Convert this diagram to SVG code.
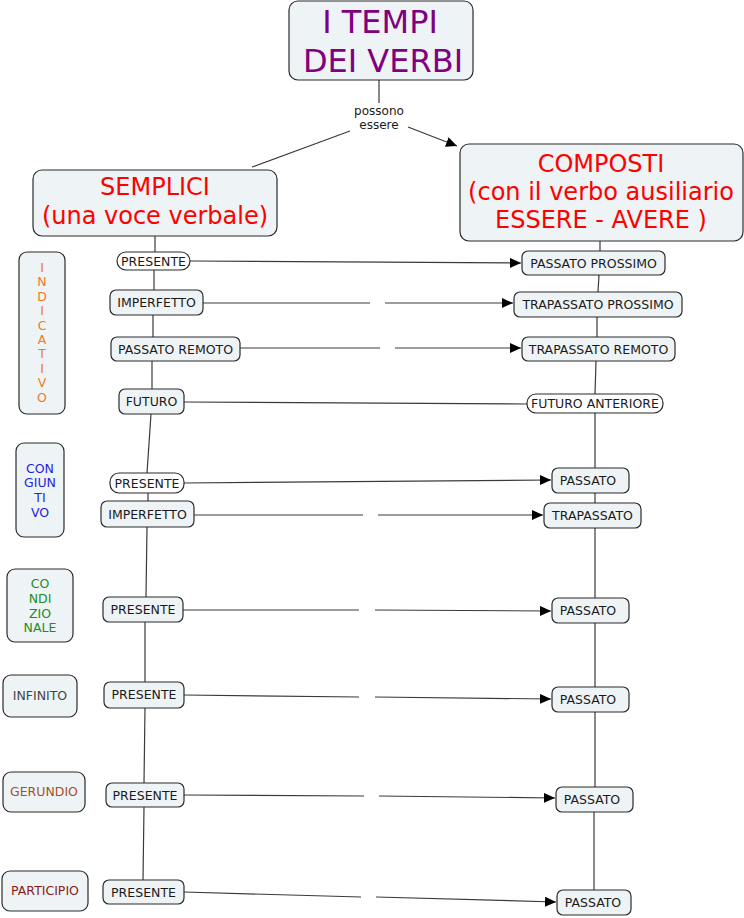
<svg xmlns="http://www.w3.org/2000/svg" width="744" height="918" viewBox="0 0 744 918">
<defs>
<marker id="arr" markerUnits="userSpaceOnUse" markerWidth="12" markerHeight="12" refX="11" refY="5" orient="auto">
<path d="M0,0 L11,5 L0,10 Z" fill="#000"/>
</marker>
<style>
.n{fill:#eef3f5;stroke:#2b2b2b;stroke-width:1.2}
.w{fill:#ffffff;stroke:#2b2b2b;stroke-width:1.2}
.t{font-family:"DejaVu Sans",Verdana,sans-serif;font-size:12.5px;fill:#1a1a1a;text-anchor:middle}
.big{font-family:"DejaVu Sans",Verdana,sans-serif;font-size:24px;fill:#ff0000;text-anchor:middle}
.ttl{font-family:"DejaVu Sans",Verdana,sans-serif;font-size:32px;fill:#800080;text-anchor:middle}
.lk{font-family:"DejaVu Sans",Verdana,sans-serif;font-size:12px;fill:#1a1a1a;text-anchor:middle}
.c line{stroke:#3a3a3a;stroke-width:1.2;fill:none}
.a{marker-end:url(#arr)}
</style>
</defs>
<rect width="744" height="918" fill="#ffffff"/>

<g class="c" id="connectors">
<line x1="379" y1="80" x2="379" y2="103"/>
<line x1="350" y1="131" x2="252" y2="167"/>
<line class="a" x1="408" y1="127" x2="457" y2="146"/>
<line x1="155" y1="236" x2="155" y2="252"/>
<line x1="154" y1="270" x2="154" y2="290"/>
<line x1="153" y1="315" x2="153" y2="337"/>
<line x1="152" y1="361" x2="152" y2="389"/>
<line x1="151" y1="414" x2="147" y2="473"/>
<line x1="148" y1="493" x2="148" y2="501"/>
<line x1="147" y1="527" x2="146" y2="597"/>
<line x1="145" y1="622" x2="145" y2="682"/>
<line x1="145" y1="708" x2="144" y2="783"/>
<line x1="144" y1="807" x2="143" y2="880"/>
<line x1="600" y1="241" x2="600" y2="251"/>
<line x1="599" y1="275" x2="598" y2="292"/>
<line x1="597" y1="317" x2="597" y2="337"/>
<line x1="596" y1="361" x2="595" y2="394"/>
<line x1="595" y1="413" x2="595" y2="468"/>
<line x1="595" y1="493" x2="595" y2="503"/>
<line x1="595" y1="528" x2="595" y2="598"/>
<line x1="595" y1="623" x2="595" y2="687"/>
<line x1="595" y1="712" x2="595" y2="787"/>
<line x1="594" y1="812" x2="594" y2="890"/>
<line class="a" x1="190" y1="261" x2="521" y2="263"/>
<line x1="203" y1="303" x2="370" y2="303"/>
<line class="a" x1="385" y1="303" x2="513" y2="303"/>
<line x1="240" y1="348" x2="380" y2="348"/>
<line class="a" x1="395" y1="348" x2="521" y2="348"/>
<line x1="184" y1="402" x2="527" y2="404"/>
<line class="a" x1="184" y1="483" x2="551" y2="480"/>
<line x1="194" y1="515" x2="363" y2="515"/>
<line class="a" x1="378" y1="515" x2="543" y2="515"/>
<line x1="183" y1="610" x2="359" y2="610"/>
<line class="a" x1="375" y1="610" x2="551" y2="611"/>
<line x1="184" y1="695" x2="359" y2="697"/>
<line class="a" x1="375" y1="697" x2="551" y2="699"/>
<line x1="184" y1="795" x2="364" y2="796"/>
<line class="a" x1="379" y1="796" x2="555" y2="798"/>
<line x1="184" y1="892" x2="361" y2="897"/>
<line class="a" x1="376" y1="897" x2="556" y2="902"/>
</g>

<g id="linkphrase">
<text class="lk" x="379" y="115">possono</text>
<text class="lk" x="379" y="129">essere</text>
</g>

<g id="title">
<rect class="n" x="289" y="1" width="184" height="79" rx="9"/>
<text class="ttl" x="380" y="33">I TEMPI</text>
<text class="ttl" x="383" y="72">DEI VERBI</text>
</g>
<g id="semplici">
<rect class="n" x="33" y="170" width="244" height="66" rx="9"/>
<text class="big" x="155" y="195">SEMPLICI</text>
<text class="big" x="155" y="224">(una voce verbale)</text>
</g>
<g id="composti">
<rect class="n" x="460" y="144" width="283" height="97" rx="9"/>
<text class="big" x="601" y="172">COMPOSTI</text>
<text class="big" x="601" y="200">(con il verbo ausiliario</text>
<text class="big" x="601" y="228">ESSERE - AVERE )</text>
</g>

<g id="indicativo">
<rect class="n" x="19" y="252" width="46" height="162" rx="8"/>
<g class="t" style="fill:#f07a28">
<text x="42" y="272">I</text><text x="42" y="286">N</text><text x="42" y="301">D</text><text x="42" y="315">I</text><text x="42" y="330">C</text><text x="42" y="344">A</text><text x="42" y="358">T</text><text x="42" y="373">I</text><text x="42" y="387">V</text><text x="42" y="402">O</text>
</g>
</g>
<g id="congiuntivo">
<rect class="n" x="16" y="443" width="48" height="94" rx="8"/>
<g class="t" style="fill:#1f1fe0">
<text x="40" y="473">CON</text><text x="40" y="487">GIUN</text><text x="40" y="502">TI</text><text x="40" y="517">VO</text>
</g>
</g>
<g id="condizionale">
<rect class="n" x="7" y="569" width="66" height="73" rx="8"/>
<g class="t" style="fill:#1e8c1e">
<text x="40" y="588">CO</text><text x="40" y="603">NDI</text><text x="40" y="618">ZIO</text><text x="40" y="632">NALE</text>
</g>
</g>
<g id="infinito">
<rect class="n" x="3" y="675" width="74" height="42" rx="8"/>
<text class="t" x="40" y="700" style="fill:#444444">INFINITO</text>
</g>
<g id="gerundio">
<rect class="n" x="3" y="772" width="82" height="40" rx="8"/>
<text class="t" x="44" y="796" style="fill:#a0522d">GERUNDIO</text>
</g>
<g id="participio">
<rect class="n" x="2" y="871" width="86" height="40" rx="8"/>
<text class="t" x="45" y="895" style="fill:#8b1a1a">PARTICIPIO</text>
</g>

<g id="s_pres_ind"><rect class="w" x="117" y="252" width="73" height="18" rx="9"/><text class="t" x="153.5" y="265.5">PRESENTE</text></g>
<g id="s_imperf_ind"><rect class="n" x="110" y="290" width="93" height="25" rx="6"/><text class="t" x="156.5" y="307">IMPERFETTO</text></g>
<g id="s_passrem"><rect class="n" x="111" y="337" width="129" height="24" rx="6"/><text class="t" x="175.5" y="353.5">PASSATO REMOTO</text></g>
<g id="s_futuro"><rect class="n" x="119" y="389" width="65" height="25" rx="6"/><text class="t" x="151.5" y="406">FUTURO</text></g>
<g id="s_pres_cong"><rect class="w" x="110" y="473" width="74" height="20" rx="9"/><text class="t" x="147" y="487.5">PRESENTE</text></g>
<g id="s_imperf_cong"><rect class="n" x="101" y="501" width="93" height="26" rx="6"/><text class="t" x="147.5" y="518.5">IMPERFETTO</text></g>
<g id="s_pres_cond"><rect class="n" x="103" y="597" width="80" height="25" rx="6"/><text class="t" x="143" y="614">PRESENTE</text></g>
<g id="s_pres_inf"><rect class="n" x="104" y="682" width="80" height="26" rx="6"/><text class="t" x="144" y="699">PRESENTE</text></g>
<g id="s_pres_ger"><rect class="n" x="106" y="783" width="78" height="24" rx="6"/><text class="t" x="145" y="799.5">PRESENTE</text></g>
<g id="s_pres_part"><rect class="n" x="103" y="880" width="81" height="24" rx="6"/><text class="t" x="143.5" y="896.5">PRESENTE</text></g>

<g id="c_pp"><rect class="n" x="522" y="251" width="143" height="24" rx="6"/><text class="t" x="593.5" y="267.5">PASSATO PROSSIMO</text></g>
<g id="c_tp"><rect class="n" x="514" y="292" width="168" height="25" rx="6"/><text class="t" x="598" y="309">TRAPASSATO PROSSIMO</text></g>
<g id="c_tr"><rect class="n" x="522" y="337" width="153" height="24" rx="6"/><text class="t" x="598.5" y="353.5">TRAPASSATO REMOTO</text></g>
<g id="c_fa"><rect class="w" x="527" y="394" width="136" height="19" rx="9"/><text class="t" x="595" y="408">FUTURO ANTERIORE</text></g>
<g id="c_pass_cong"><rect class="n" x="552" y="468" width="77" height="25" rx="6"/><text class="t" x="588" y="485">PASSATO</text></g>
<g id="c_trap"><rect class="n" x="544" y="503" width="97" height="25" rx="6"/><text class="t" x="592.5" y="520">TRAPASSATO</text></g>
<g id="c_pass_cond"><rect class="n" x="552" y="598" width="77" height="25" rx="6"/><text class="t" x="588" y="615">PASSATO</text></g>
<g id="c_pass_inf"><rect class="n" x="552" y="687" width="77" height="25" rx="6"/><text class="t" x="588" y="704">PASSATO</text></g>
<g id="c_pass_ger"><rect class="n" x="556" y="787" width="77" height="25" rx="6"/><text class="t" x="592" y="804">PASSATO</text></g>
<g id="c_pass_part"><rect class="n" x="557" y="890" width="74" height="25" rx="6"/><text class="t" x="593" y="907">PASSATO</text></g>
</svg>
